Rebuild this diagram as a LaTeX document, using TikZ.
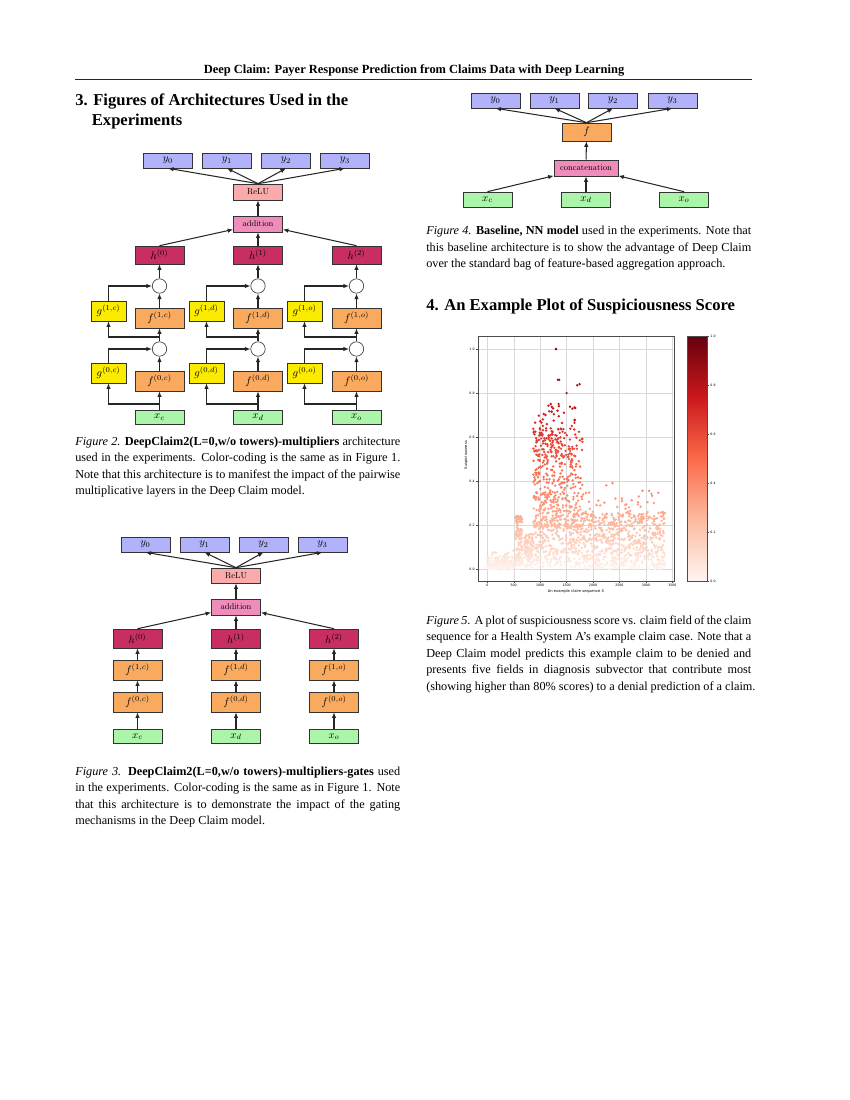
\documentclass[tikz,border=0pt]{standalone}
\usepackage{graphicx}
\usepackage[no-math]{fontspec}
\setmainfont{Liberation Serif}
\newfontfamily\diagfont{Latin Modern Roman}
\newfontfamily\plotfont{DejaVu Sans}
\usetikzlibrary{arrows.meta}
\definecolor{cY}{RGB}{178,178,250}
\definecolor{cRelu}{RGB}{250,170,170}
\definecolor{cAdd}{RGB}{240,140,185}
\definecolor{cH}{RGB}{200,45,100}
\definecolor{cF}{RGB}{250,170,95}
\definecolor{cG}{RGB}{250,235,0}
\definecolor{cX}{RGB}{170,245,170}
\definecolor{cmA}{RGB}{255,245,240}
\definecolor{cmB}{RGB}{252,187,161}
\definecolor{cmC}{RGB}{251,106,74}
\definecolor{cmD}{RGB}{203,24,29}
\definecolor{cmE}{RGB}{103,0,13}
\newcommand\dl[1]{\scalebox{0.62}{#1}}
\newcommand\dm[1]{\scalebox{0.78}{#1}}
\newcommand\capfont{\fontsize{8.85}{11}\selectfont}
\newcommand\capJ[3]{\node[anchor=base west,inner sep=0pt,font=\capfont] (#1) at (#2) {\makebox[234.9pt][s]{#3}};}
\newcommand\capL[3]{\node[anchor=base west,inner sep=0pt,font=\capfont] (#1) at (#2) {#3};}
\newcommand\sdot[2]{%
  \pgfmathsetmacro\cvY{min(1,max(0,#2))}%
  \pgfmathsetmacro\cvV{min(1,pow(\cvY+0.0001,0.85))}%
  \pgfmathtruncatemacro\cvI{min(3,floor(\cvV*4))}%
  \pgfmathtruncatemacro\cvT{(\cvV*4-\cvI)*100}%
  \ifcase\cvI\colorlet{pc}{cmB!\cvT!cmA}\or\colorlet{pc}{cmC!\cvT!cmB}\or\colorlet{pc}{cmD!\cvT!cmC}\else\colorlet{pc}{cmE!\cvT!cmD}\fi
  \fill[pc] ({487.3+(#1)*0.05286},{569-\cvY*220}) circle[radius=0.95pt];}
\tikzset{
  x=0.7227pt, y=-0.7227pt,
  blk/.style={draw=black!80, line width=0.45pt, inner sep=0pt, font=\diagfont\fontsize{10}{12}\selectfont, minimum width=35.41pt},
  circ/.style={circle, draw=black!80, line width=0.45pt, fill=white, minimum size=10.4pt, inner sep=0pt},
  arr/.style={-{Latex[length=4pt,width=3.2pt]}, line width=0.75pt, draw=black!85},
  tick/.style={font=\plotfont\fontsize{2.3}{2.6}\selectfont, inner sep=0.5pt},
}
\begin{document}
\begin{tikzpicture}
\fill[white] (0,0) rectangle (850,1100);
\useasboundingbox (0,0) rectangle (850,1100);
% header
\node[font=\fontsize{9}{11}\selectfont\bfseries, anchor=base] (hdr) at (414,74) {Deep Claim: Payer Response Prediction from Claims Data with Deep Learning};
\coordinate (rl) at (75,79.5); \coordinate (rr) at (752,79.5);
\draw[line width=1.1pt, black!85] (rl) -- (rr);
% section headings
\node[font=\fontsize{12}{14}\selectfont\bfseries, anchor=base west, inner sep=0pt] (s3a) at (75,106) {3. Figures of Architectures Used in the};
\node[font=\fontsize{12}{14}\selectfont\bfseries, anchor=base west, inner sep=0pt] (s3b) at (91.6,126) {Experiments};
\node[font=\fontsize{12}{14}\selectfont\bfseries, anchor=base west, inner sep=0pt] (s4) at (426,310) {4. An Example Plot of Suspiciousness Score};

% ===== Figure 2 =====
\foreach \s/\fx/\gx/\k in {c/159.5/108.5/0,d/258/206.5/1,o/356.5/304.5/2}{
  \node[blk,fill=cX,minimum height=10.12pt] (Bx\s) at (\fx,417) {\dm{$x_{\s}$}};
  \node[blk,fill=cF,minimum height=14.45pt] (Bfa\s) at (\fx,381) {\dm{$f^{(0,\s)}$}};
  \node[blk,fill=cG,minimum width=25.29pt,minimum height=14.45pt] (Bga\s) at (\gx,373) {\dm{$g^{(0,\s)}$}};
  \node[circ] (Bma\s) at (\fx,349) {};
  \node[blk,fill=cF,minimum height=14.45pt] (Bfb\s) at (\fx,318) {\dm{$f^{(1,\s)}$}};
  \node[blk,fill=cG,minimum width=25.29pt,minimum height=14.45pt] (Bgb\s) at (\gx,311) {\dm{$g^{(1,\s)}$}};
  \node[circ] (Bmb\s) at (\fx,286) {};
  \node[blk,fill=cH,minimum height=13pt] (Bh\s) at (\fx,255) {\dm{$h^{(\k)}$}};
  \coordinate (Bja\s) at (\fx,404);
  \coordinate (Bjb\s) at (\fx,337);
  \draw[arr] (Bx\s) -- (Bfa\s);
  \draw[arr] (Bja\s) -| (Bga\s);
  \draw[arr] (Bfa\s) -- (Bma\s);
  \draw[arr] (Bga\s) |- (Bma\s);
  \draw[arr] (Bma\s) -- (Bfb\s);
  \draw[arr] (Bjb\s) -| (Bgb\s);
  \draw[arr] (Bfb\s) -- (Bmb\s);
  \draw[arr] (Bgb\s) |- (Bmb\s);
  \draw[arr] (Bmb\s) -- (Bh\s);
}
\node[blk,fill=cAdd,minimum height=11.56pt] (Badd) at (258,224) {\dl{addition}};
\node[blk,fill=cRelu,minimum height=11.56pt] (Brelu) at (258,192) {\dl{ReLU}};
\foreach \s in {c,d,o} \draw[arr] (Bh\s.north) -- (Badd);
\draw[arr] (Badd) -- (Brelu);
\foreach \i/\xx in {0/168,1/227,2/286,3/345}{
  \node[blk,fill=cY,minimum height=10.84pt] (By\i) at (\xx,160.5) {\dm{$y_{\i}$}};
  \draw[arr] (Brelu.north) -- (By\i.south);
}
\capJ{c2a}{75,445}{\textit{Figure 2.} \textbf{DeepClaim2(L=0,w/o towers)-multipliers} architecture}
\capJ{c2b}{75,461.5}{used in the experiments. Color-coding is the same as in Figure 1.}
\capJ{c2c}{75,478}{Note that this architecture is to manifest the impact of the pairwise}
\capL{c2d}{75,494.5}{multiplicative layers in the Deep Claim model.}

% ===== Figure 3 =====
\foreach \s/\fx/\k in {c/137.5/0,d/236/1,o/334/2}{
  \node[blk,fill=cX,minimum height=10.12pt] (Cx\s) at (\fx,736.5) {\dm{$x_{\s}$}};
  \node[blk,fill=cF,minimum height=14.45pt] (Cfa\s) at (\fx,702) {\dm{$f^{(0,\s)}$}};
  \node[blk,fill=cF,minimum height=14.45pt] (Cfb\s) at (\fx,670) {\dm{$f^{(1,\s)}$}};
  \node[blk,fill=cH,minimum height=13.7pt] (Ch\s) at (\fx,638.5) {\dm{$h^{(\k)}$}};
  \draw[arr] (Cx\s) -- (Cfa\s);
  \draw[arr] (Cfa\s) -- (Cfb\s);
  \draw[arr] (Cfb\s) -- (Ch\s);
}
\node[blk,fill=cAdd,minimum height=11.56pt] (Cadd) at (236,607) {\dl{addition}};
\node[blk,fill=cRelu,minimum height=10.84pt] (Crelu) at (236,575.5) {\dl{ReLU}};
\foreach \s in {c,d,o} \draw[arr] (Ch\s.north) -- (Cadd);
\draw[arr] (Cadd) -- (Crelu);
\foreach \i/\xx in {0/145.5,1/204.5,2/263.5,3/322.5}{
  \node[blk,fill=cY,minimum height=10.84pt] (Cy\i) at (\xx,544.5) {\dm{$y_{\i}$}};
  \draw[arr] (Crelu.north) -- (Cy\i.south);
}
\capJ{c3a}{75,775}{\textit{Figure 3.} \textbf{DeepClaim2(L=0,w/o towers)-multipliers-gates} used}
\capJ{c3b}{75,791.5}{in the experiments. Color-coding is the same as in Figure 1. Note}
\capJ{c3c}{75,808}{that this architecture is to demonstrate the impact of the gating}
\capL{c3d}{75,824.5}{mechanisms in the Deep Claim model.}

% ===== Figure 4 =====
\foreach \s/\xx in {c/487.5,d/586,o/684}{
  \node[blk,fill=cX,minimum height=10.84pt] (Dx\s) at (\xx,199.5) {\dm{$x_{\s}$}};
}
\node[blk,fill=cAdd,minimum width=46.25pt,minimum height=11.56pt] (Dcat) at (586,168) {\dl{concatenation}};
\node[blk,fill=cF,minimum height=13pt] (Df) at (586.5,132) {\dm{$f$}};
\foreach \s in {c,d,o} \draw[arr] (Dx\s.north) -- (Dcat);
\draw[arr] (Dcat) -- (Df);
\foreach \i/\xx in {0/495.5,1/554.5,2/613,3/672.5}{
  \node[blk,fill=cY,minimum height=10.84pt] (Dy\i) at (\xx,100.5) {\dm{$y_{\i}$}};
  \draw[arr] (Df.north) -- (Dy\i.south);
}
\capJ{c4a}{426,234.5}{\textit{Figure 4.} \textbf{Baseline, NN model} used in the experiments. Note that}
\capJ{c4b}{426,251}{this baseline architecture is to show the advantage of Deep Claim}
\capL{c4c}{426,267.5}{over the standard bag of feature-based aggregation approach.}

% ===== Figure 5 plot =====
\foreach \v in {0,...,7} \draw[gray!30, line width=0.3pt] ({487.3+\v*26.43},336) -- ({487.3+\v*26.43},581);
\foreach \v in {0,...,5} \draw[gray!30, line width=0.3pt] (478,{569-\v*44}) -- (674,{569-\v*44});
\pgfmathsetseed{11}
\foreach \n in {1,...,200}{\pgfmathsetmacro\sX{500*rnd}\pgfmathsetmacro\sY{0.09*rnd*rnd}\sdot{\sX}{\sY}}
\foreach \n in {1,...,100}{\pgfmathsetmacro\sX{530+130*rnd}\pgfmathsetmacro\sY{0.24-0.22*pow(rnd,1.5)}\sdot{\sX}{\sY}}
\foreach \n in {1,...,40}{\pgfmathsetmacro\sX{480+220*rnd}\pgfmathsetmacro\sY{0.1*rnd}\sdot{\sX}{\sY}}
\foreach \n in {1,...,100}{\pgfmathsetmacro\sX{700+160*rnd}\pgfmathsetmacro\sY{0.16*pow(rnd,0.8)}\sdot{\sX}{\sY}}
\foreach \n in {1,...,260}{\pgfmathsetmacro\sX{870+940*rnd}\pgfmathsetmacro\sY{0.2*rnd}\sdot{\sX}{\sY}}
\foreach \n in {1,...,650}{\pgfmathsetmacro\sX{1810+1560*rnd}\pgfmathsetmacro\sY{0.26*pow(rnd,1.3)}\sdot{\sX}{\sY}}
\foreach \n in {1,...,60}{\pgfmathsetmacro\sX{1810+1500*rnd}\pgfmathsetmacro\sY{0.18+0.18*rnd}\sdot{\sX}{\sY}}
\foreach \n in {1,...,480}{\pgfmathsetmacro\sX{870+940*pow(rnd,1.15)}\pgfmathsetmacro\sY{0.19+0.45*pow(rnd,1.6)}\sdot{\sX}{\sY}}
\foreach \n in {1,...,80}{\pgfmathsetmacro\sX{900+800*rnd}\pgfmathsetmacro\sY{0.42+0.33*rnd}\sdot{\sX}{\sY}}
\foreach \a/\b in {1300/1.0,1335/0.86,1360/0.86,1700/0.835,1745/0.84,1500/0.80,1200/0.75,1245/0.73,1350/0.75,1355/0.74,1100/0.70,1450/0.71,1050/0.68,1600/0.65,2250/0.38,2370/0.39,3060/0.355}{\sdot{\a}{\b}}
\draw[black!70, line width=0.4pt] (478,336) rectangle (674,581);
\foreach \v/\t in {0/0,1/500,2/1000,3/1500,4/2000,5/2500,6/3000,7/3500}{
  \draw[black!70, line width=0.3pt] ({487.3+\v*26.43},581) -- ({487.3+\v*26.43},583);
  \node[tick, anchor=north] (xt\v) at ({487.3+\v*26.43},583.5) {\t};
}
\foreach \v/\t in {0/0.0,1/0.2,2/0.4,3/0.6,4/0.8,5/1.0}{
  \draw[black!70, line width=0.3pt] (478,{569-\v*44}) -- (476,{569-\v*44});
  \node[tick, anchor=east] (yt\v) at (475.5,{569-\v*44}) {\t};
}
\node[font=\plotfont\fontsize{2.7}{3}\selectfont] (xl) at (576,591) {An example claim sequence X};
\node[font=\plotfont\fontsize{2.7}{3}\selectfont, rotate=90] (yl) at (466,455) {Suspiciousness};
% colorbar
\shade[bottom color=cmA, top color=cmB] (687,581) rectangle (707,519.75);
\shade[bottom color=cmB, top color=cmC] (687,519.75) rectangle (707,458.5);
\shade[bottom color=cmC, top color=cmD] (687,458.5) rectangle (707,397.25);
\shade[bottom color=cmD, top color=cmE] (687,397.25) rectangle (707,336);
\draw[black!70, line width=0.4pt] (687,336) rectangle (707,581);
\foreach \v/\t in {0/0.0,1/0.2,2/0.4,3/0.6,4/0.8,5/1.0}{
  \draw[black!70, line width=0.3pt] (707,{581-\v*49}) -- (709,{581-\v*49});
  \node[tick, anchor=west] (ct\v) at (709.5,{581-\v*49}) {\t};
}
\capJ{c5a}{426,624}{\textit{Figure 5.} A plot of suspiciousness score vs. claim field of the claim}
\capJ{c5b}{426,640.5}{sequence for a Health System A’s example claim case. Note that a}
\capJ{c5c}{426,657}{Deep Claim model predicts this example claim to be denied and}
\capJ{c5d}{426,673.5}{presents five fields in diagnosis subvector that contribute most}
\capL{c5e}{426,690}{(showing higher than 80\% scores) to a denial prediction of a claim.}
\end{tikzpicture}
\end{document}
